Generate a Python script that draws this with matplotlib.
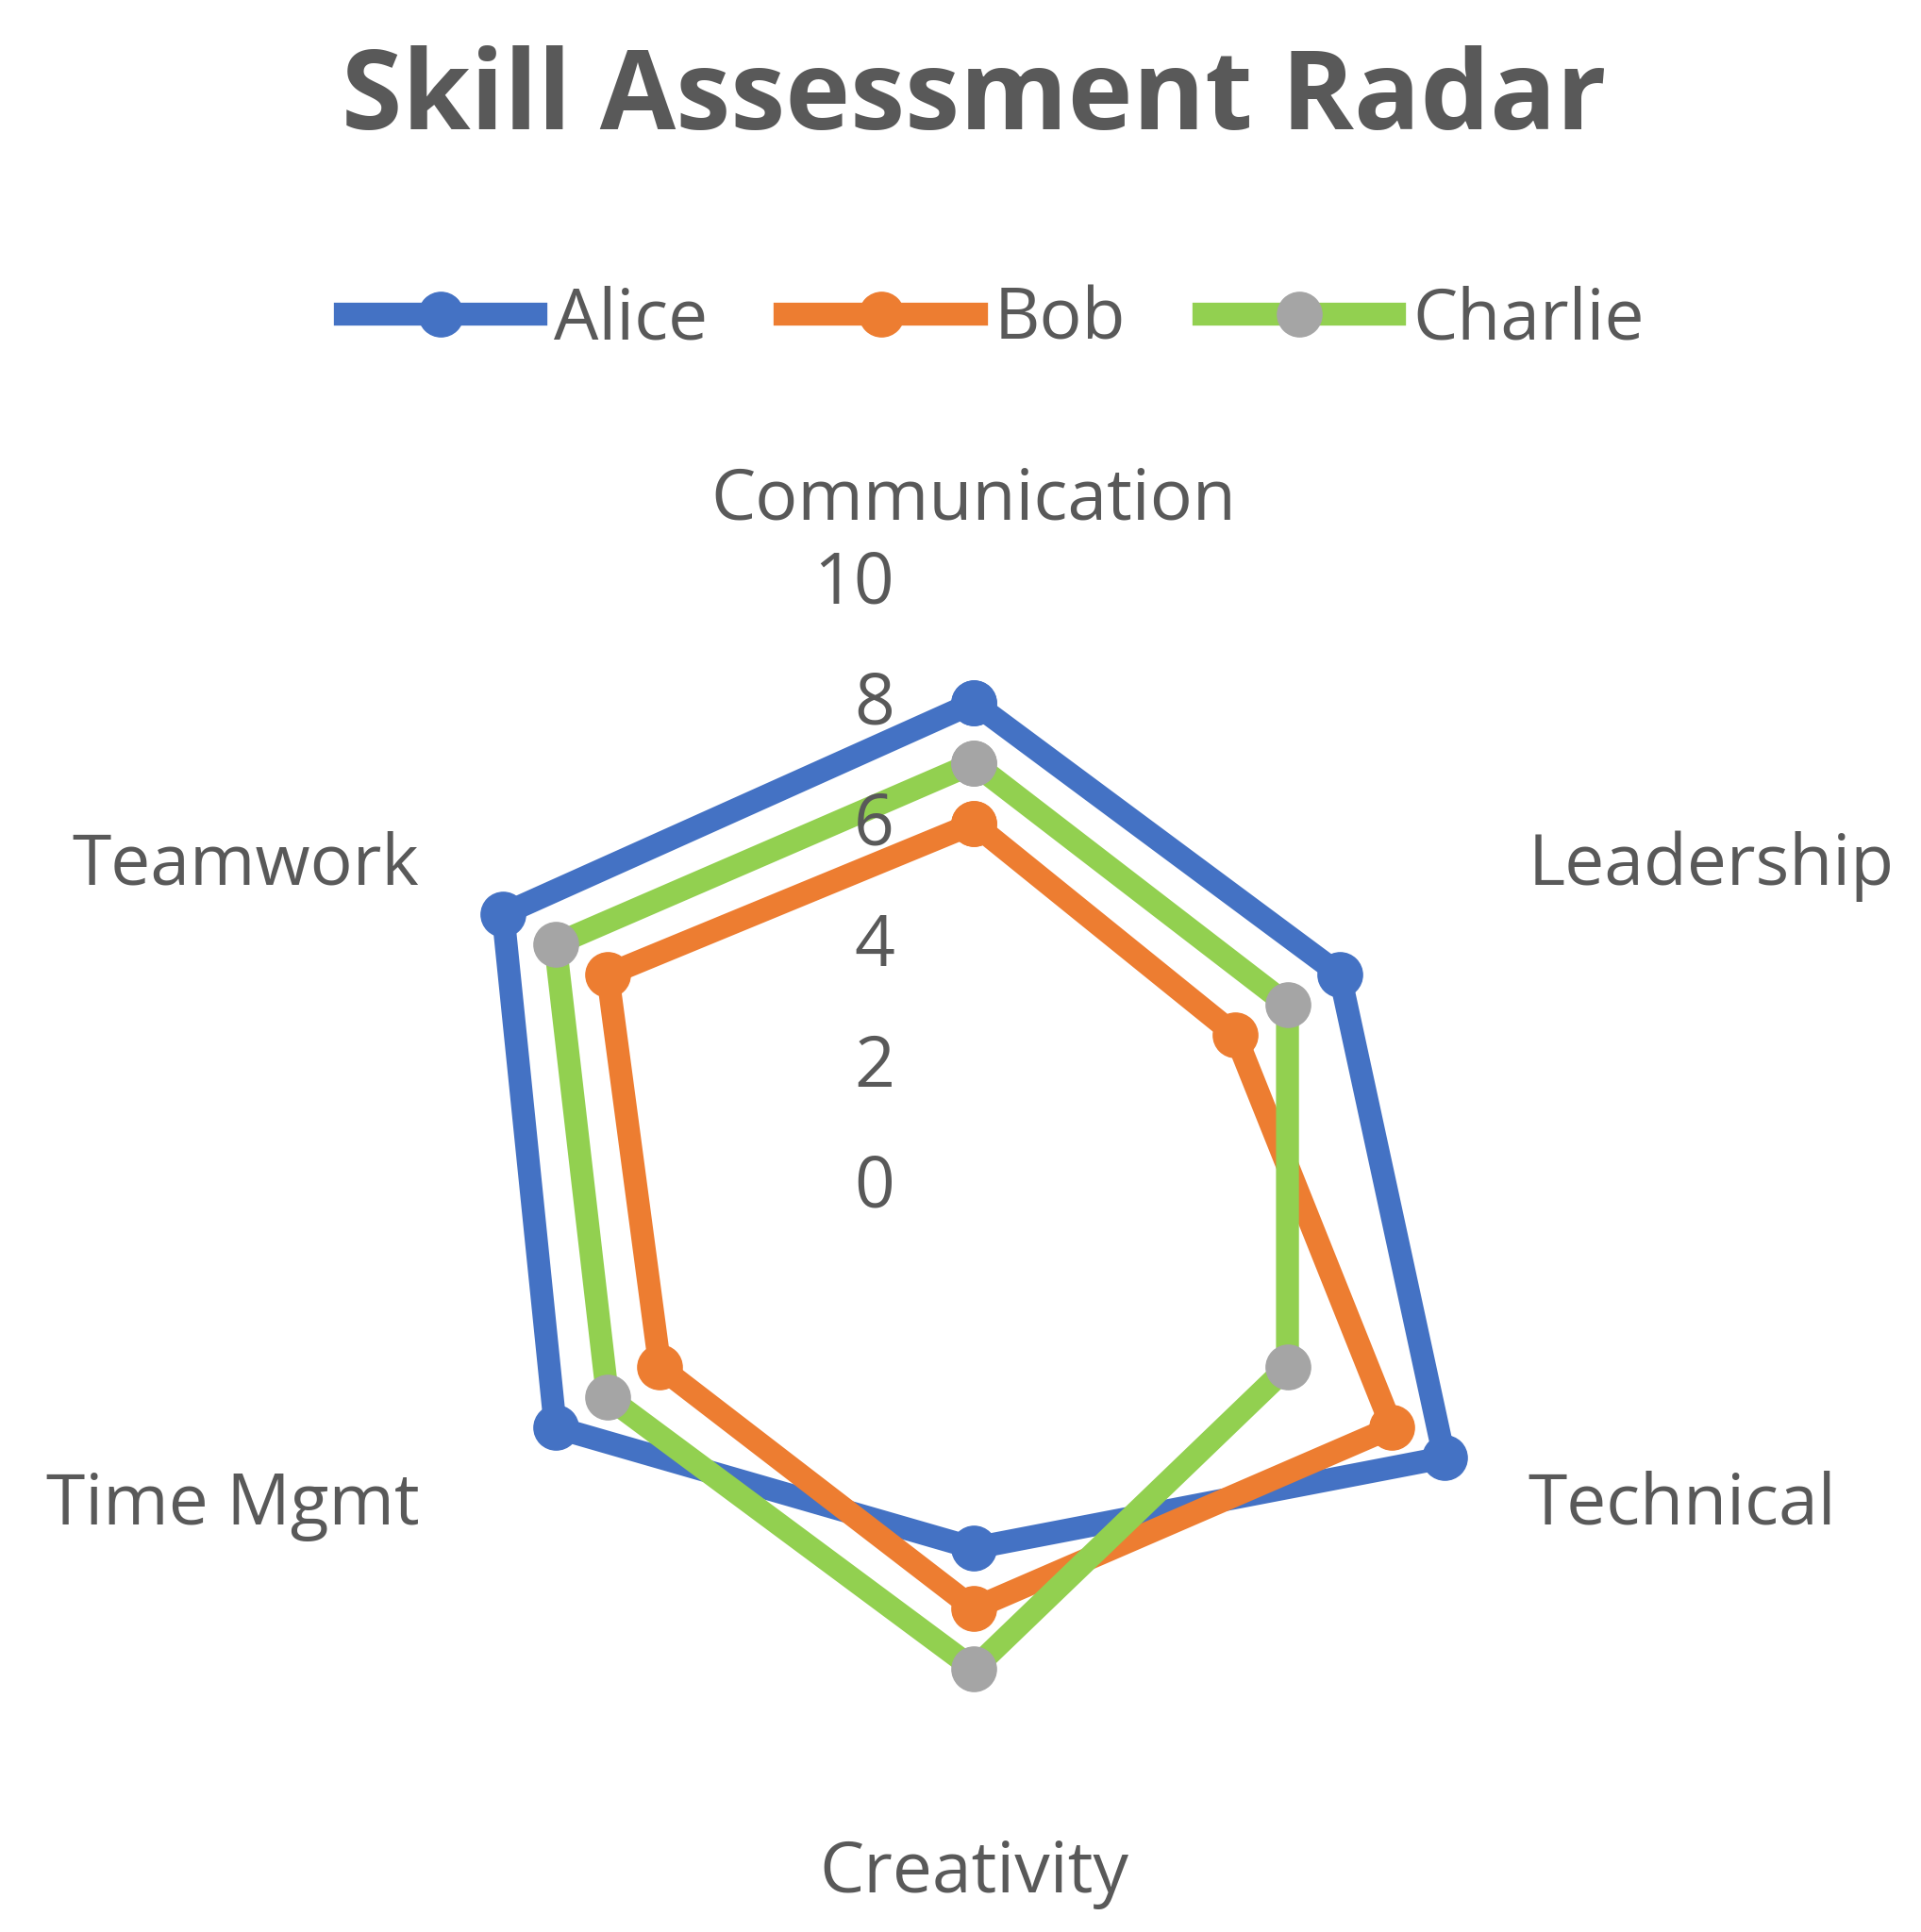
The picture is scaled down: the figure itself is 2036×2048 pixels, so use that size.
import numpy as np
import matplotlib.pyplot as plt
from matplotlib.transforms import ScaledTranslation

plt.rcParams['font.family'] = ['Open Sans', 'DejaVu Sans']

# Data
categories = ["Communication", "Leadership", "Technical", "Creativity", "Time Mgmt", "Teamwork"]
alice = [8, 7, 9, 6, 8, 9]
bob = [6, 5, 8, 7, 6, 7]
charlie = [7, 6, 6, 8, 7, 8]
r_ticks = [0, 2, 4, 6, 8, 10]

text_color = '#595959'
W, H = 2036, 2048
fig = plt.figure(figsize=(W / 100, H / 100), dpi=100)

# Radar centred at (1032, 1257) px, radius 640 px
cx, cy, rad = 1032, 1257, 640
ax = fig.add_axes([(cx - rad) / W, (H - cy - rad) / H, 2 * rad / W, 2 * rad / H], polar=True)
ax.set_theta_zero_location('N')
ax.set_theta_direction(-1)
ax.set_ylim(0, 10)
ax.grid(False)
ax.spines['polar'].set_visible(False)
ax.set_xticks([])
ax.set_yticks([])
ax.patch.set_alpha(0)

angles = np.linspace(0, 2 * np.pi, len(categories), endpoint=False)

def closed(vals):
    return np.append(vals, vals[0])

series = [
    ("Alice", alice, '#4472C4', '#4472C4'),
    ("Bob", bob, '#ED7D31', '#ED7D31'),
    ("Charlie", charlie, '#92D050', '#A5A5A5'),
]
for name, vals, lc, mc in series:
    ax.plot(closed(angles), closed(vals), color=lc, linewidth=17.5,
            marker='o', markersize=34, markerfacecolor=mc, markeredgecolor=mc,
            solid_joinstyle='round', label=name, clip_on=False)

# Value labels along the vertical axis
off = ax.transData + ScaledTranslation(-0.84, -0.03, fig.dpi_scale_trans)
for v in r_ticks:
    ax.text(0, v, str(v), transform=off, ha='right', va='center',
            fontsize=54, color=text_color)

# Category labels
label_pos = [
    (11.35, 'center', 'center'),
    (10.6, 'left', 'center'),
    (10.6, 'left', 'center'),
    (11.4, 'center', 'center'),
    (10.6, 'right', 'center'),
    (10.6, 'right', 'center'),
]
for ang, cat, (r, ha, va) in zip(angles, categories, label_pos):
    ax.text(ang, r, cat, ha=ha, va=va, fontsize=54, color=text_color)

fig.text(cx / W, 1 - 106 / H, "Skill Assessment Radar", ha='center', va='center',
         fontsize=84, fontweight='bold', color=text_color)

fig.legend(loc='center', bbox_to_anchor=((cx + 22) / W, 1 - 340 / H), ncol=3, frameon=False,
           fontsize=54, labelcolor=text_color, handlelength=2.7, handletextpad=0.25,
           columnspacing=1.1, numpoints=1)

fig.savefig('out.png', dpi=100)
